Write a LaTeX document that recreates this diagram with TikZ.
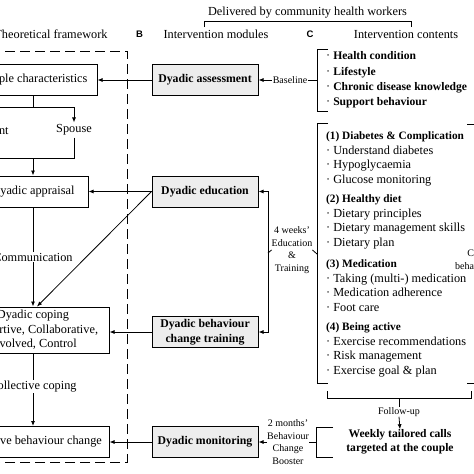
\documentclass[tikz,border=0pt]{standalone}
\usepackage{fontspec}
\setmainfont{Liberation Serif}
\newfontfamily\panelfont{Liberation Sans}
\usetikzlibrary{arrows.meta}

\newcommand{\bul}{·\hspace{3pt}}

\begin{document}
\begin{tikzpicture}[x=1pt,y=-1pt,
    every node/.style={font=\fontsize{12.3}{14.5}\selectfont, inner sep=0pt},
    leftbox/.style={draw, line width=1pt, minimum height=31pt, align=center},
    modbox/.style={draw, line width=1pt, fill=black!7, minimum width=106pt, minimum height=31pt, align=center, font=\fontsize{11.8}{14.5}\selectfont\bfseries},
    smalltext/.style={font=\fontsize{10}{12.6}\selectfont, align=center},
    paneltext/.style={font=\panelfont\fontsize{9.5}{11}\selectfont\bfseries},
    arr/.style={line width=0.8pt, -{Latex[length=5pt,width=4pt]}},
    ln/.style={line width=0.8pt}
]
    \useasboundingbox (0,0) rectangle (474,474);

    \node (delivered) at (307.5,13) {Delivered by community health workers};
    \draw [ln] (204,27) -- (204,21) -- (411,21) -- (411,27);
    \node (theory) at (51,34) {Theoretical framework};
    \node [paneltext] (panelB) at (139.5,34) {B};
    \node (modules) at (216,34) {Intervention modules};
    \node [paneltext] (panelC) at (310,34) {C};
    \node (contents) at (406,34) {Intervention contents};

    \draw [line width=1pt, dash pattern=on 10pt off 5pt] (-10,51) -- (127,51) -- (127,462) -- (-10,462);

    \node [leftbox, minimum width=128pt] (couple) at (33,80) {Couple characteristics};
    \node [inner sep=2pt] (patient) at (-8.5,130) {Patient};
    \node [inner sep=2pt] (spouse) at (74,130) {Spouse};
    \node [leftbox, minimum width=110pt] (appraisal) at (33,191.5) {Dyadic appraisal};
    \node [leftbox, minimum width=152pt, minimum height=46pt] (coping) at (33,330) {Dyadic coping\\Supportive, Collaborative,\\Involved, Control};
    \node [leftbox, minimum width=144pt] (change) at (37,442) {Positive behaviour change};

    \coordinate (split) at (33,107);
    \coordinate (merge) at (33,158);
    \draw [ln] (couple.south) -- (split);
    \draw [arr] (split) -| (patient.north);
    \draw [arr] (split) -| (spouse.north);
    \draw [ln] (patient.south) |- (merge);
    \draw [ln] (spouse.south) |- (merge);
    \draw [arr] (merge) -- (appraisal.north);
    \draw [arr] (appraisal.south) -- (coping.north) node[pos=0.5, fill=white, inner sep=1pt] {Communication};
    \draw [arr] (coping.south) -- (coping.south |- change.north) node[pos=0.45, fill=white, inner sep=1pt] {Collective coping};

    \node [modbox] (assess) at (205,80) {Dyadic assessment};
    \node [modbox] (educ) at (205,191.5) {Dyadic education};
    \node [modbox] (train) at (205,332) {Dyadic behaviour\\change training};
    \node [modbox] (monitor) at (205,442) {Dyadic monitoring};

    \draw [arr] (assess.west) -- (couple.east);
    \draw [arr] (educ.west) -- (appraisal.east);
    \draw [arr] (educ.west) -- ([xshift=4pt]coping.north);
    \draw [arr] (train.west) -- (train.west -| coping.east);
    \draw [arr] (monitor.west) -- (monitor.west -| change.east);

    \node [smalltext, inner xsep=1pt] (baseline) at (290,80) {Baseline};
    \coordinate (bracketA) at (317,80);
    \draw [arr] (baseline.west) -- (assess.east);
    \draw [ln] (baseline.east) -- (bracketA);
    \draw [ln] (328,49) -- (317,49) -- (317,111) -- (328,111);
    \node [anchor=west, align=left, font=\fontsize{12.3}{15.3}\selectfont] (assesslist) at (326,80)
        {\bul{\fontsize{11.6}{15.3}\selectfont\bfseries Health condition}\\
         \bul{\fontsize{11.6}{15.3}\selectfont\bfseries Lifestyle}\\
         \bul{\fontsize{11.6}{15.3}\selectfont\bfseries Chronic disease knowledge}\\
         \bul{\fontsize{11.6}{15.3}\selectfont\bfseries Support behaviour}};

    \node [smalltext] (weeks) at (292,250) {4 weeks'\\Education\\\&\\Training};
    \coordinate (trainjoin) at (268,253);
    \coordinate (bracketB) at (317,254);
    \draw [arr] (trainjoin) |- (educ.east);
    \draw [arr] (trainjoin) |- (train.east);
    \draw [ln] (trainjoin) -- (weeks.west);
    \draw [ln] (weeks.east) -- (bracketB);
    \draw [ln] (328,123) -- (317,123) -- (317,383) -- (328,383);
    \node [anchor=west, align=left, font=\fontsize{12.3}{14.5}\selectfont] (contentlist) at (326,254.5)
        {{\fontsize{11.3}{14.5}\selectfont\bfseries (1) Diabetes \& Complication}\\
         \bul Understand diabetes\\
         \bul Hypoglycaemia\\
         \bul Glucose monitoring\\[5pt]
         {\fontsize{11.3}{14.5}\selectfont\bfseries (2) Healthy diet}\\
         \bul Dietary principles\\
         \bul Dietary management skills\\
         \bul Dietary plan\\[7pt]
         {\fontsize{11.3}{14.5}\selectfont\bfseries (3) Medication}\\
         \bul Taking (multi-) medication\\
         \bul Medication adherence\\
         \bul Foot care\\[5pt]
         {\fontsize{11.3}{14.5}\selectfont\bfseries (4) Being active}\\
         \bul Exercise recommendations\\
         \bul Risk management\\
         \bul Exercise goal \& plan};

    \draw [ln] (467,124) -- (484,124) -- (484,383) -- (467,383);
    \node [smalltext, font=\fontsize{10}{13}\selectfont] (core) at (477,259.5) {Core\\behaviours};

    \draw [ln] (327,391) -- (327,398) -- (471,398) -- (471,391);
    \coordinate (followtick) at (399,398);
    \node [smalltext] (followup) at (399,412) {Follow-up};
    \node [align=center, font=\fontsize{11.6}{13.5}\selectfont\bfseries] (weekly) at (400,441.5) {Weekly tailored calls\\targeted at the couple};
    \draw [ln] (followtick) -- (followup.north);
    \draw [arr] (followup.south) -- (weekly.north);

    \node [smalltext] (booster) at (288,442) {2 months'\\Behaviour\\Change\\Booster};
    \coordinate (bracketC) at (316,442);
    \draw [ln] (333,427) -- (316,427) -- (316,457) -- (333,457);
    \draw [ln] (booster.east) -- (bracketC);
    \draw [arr] (booster.west) -- (monitor.east);
\end{tikzpicture}
\end{document}
